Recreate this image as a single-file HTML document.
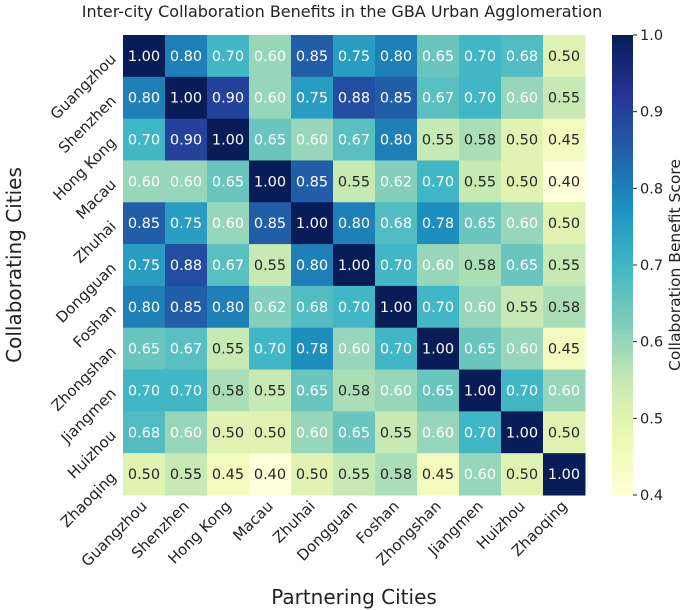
<!DOCTYPE html>
<html><head><meta charset="utf-8"><style>
body{margin:0;background:#fff;}
svg{display:block;font-family:"DejaVu Sans","Liberation Sans",sans-serif;}
</style></head><body>
<svg id="chart" width="685" height="610">
<text x="342" y="17" text-anchor="middle" font-size="16" fill="#222">Inter-city Collaboration Benefits in the GBA Urban Agglomeration</text>
<text transform="translate(21,265) rotate(-90)" text-anchor="middle" font-size="20" fill="#222">Collaborating Cities</text>
<text x="354" y="604" text-anchor="middle" font-size="20" fill="#222">Partnering Cities</text>
<text transform="translate(680,265) rotate(-90)" text-anchor="middle" font-size="15.5" fill="#222">Collaboration Benefit Score</text>
<g id="cells"></g><g id="xl"></g><g id="yl"></g><g id="cb"></g>
</svg>
<script>
const cities=["Guangzhou","Shenzhen","Hong Kong","Macau","Zhuhai","Dongguan","Foshan","Zhongshan","Jiangmen","Huizhou","Zhaoqing"];
const values=[
[1.00,0.80,0.70,0.60,0.85,0.75,0.80,0.65,0.70,0.68,0.50],
[0.80,1.00,0.90,0.60,0.75,0.88,0.85,0.67,0.70,0.60,0.55],
[0.70,0.90,1.00,0.65,0.60,0.67,0.80,0.55,0.58,0.50,0.45],
[0.60,0.60,0.65,1.00,0.85,0.55,0.62,0.70,0.55,0.50,0.40],
[0.85,0.75,0.60,0.85,1.00,0.80,0.68,0.78,0.65,0.60,0.50],
[0.75,0.88,0.67,0.55,0.80,1.00,0.70,0.60,0.58,0.65,0.55],
[0.80,0.85,0.80,0.62,0.68,0.70,1.00,0.70,0.60,0.55,0.58],
[0.65,0.67,0.55,0.70,0.78,0.60,0.70,1.00,0.65,0.60,0.45],
[0.70,0.70,0.58,0.55,0.65,0.58,0.60,0.65,1.00,0.70,0.60],
[0.68,0.60,0.50,0.50,0.60,0.65,0.55,0.60,0.70,1.00,0.50],
[0.50,0.55,0.45,0.40,0.50,0.55,0.58,0.45,0.60,0.50,1.00]];
const cbTicks=[0.4,0.5,0.6,0.7,0.8,0.9,1.0];
const vmin=0.4,vmax=1.0;
const L=123,T=35,W=462,H=460,n=cities.length,cw=W/n,ch=H/n;
const stops=["#ffffd9","#edf8b1","#c7e9b4","#7fcdbb","#41b6c4","#1d91c0","#225ea8","#253494","#081d58"].map(h=>[1,3,5].map(i=>parseInt(h.substr(i,2),16)));
function col(v){let t=Math.max(0,Math.min(1,(v-vmin)/(vmax-vmin)))*(stops.length-1);let i=Math.min(Math.floor(t),stops.length-2),f=t-i;return stops[i].map((a,k)=>Math.round(a+(stops[i+1][k]-a)*f));}
const NS="http://www.w3.org/2000/svg";
function mk(tag,attrs,parent){const e=document.createElementNS(NS,tag);for(const k in attrs)e.setAttribute(k,attrs[k]);parent.appendChild(e);return e;}
const xS=j=>L+j*cw,yS=i=>T+i*ch;
const g=document.getElementById('cells');
values.forEach((row,i)=>row.forEach((v,j)=>{
const c=col(v);
const r=mk('rect',{x:xS(j),y:yS(i),width:cw+0.5,height:ch+0.5,fill:`rgb(${c})`},g);


const t=mk('text',{x:xS(j)+cw/2,y:yS(i)+ch/2+5,'text-anchor':'middle','font-size':14.5,fill:v>=0.595?'#fff':'#262626'},g);
t.textContent=v.toFixed(2);


}));
const xl=document.getElementById('xl'),yl=document.getElementById('yl');
cities.forEach((c,j)=>{
const x=xS(j)+cw/2+4,y=T+H+12;
const t=mk('text',{transform:`translate(${x},${y}) rotate(-45)`,'text-anchor':'end','font-size':15,fill:'#222'},xl);
t.textContent=c;


const y2=yS(j)+ch/2+4;
const t2=mk('text',{transform:`translate(${L-6},${y2}) rotate(-45)`,'text-anchor':'end','font-size':15,fill:'#222'},yl);
t2.textContent=c;


});
const cb=document.getElementById('cb');
const CX=612,CW=21;
const cyS=v=>T+H-(v-vmin)/(vmax-vmin)*H;
for(let k=0;k<100;k++){const v=vmin+(vmax-vmin)*k/100;const c=col(v+0.003);
const r=mk('rect',{x:CX,y:cyS(v+(vmax-vmin)/100),width:CW,height:H/100+0.6,fill:`rgb(${c})`},cb);

}
cbTicks.forEach(v=>{
const l=mk('line',{x1:CX+CW,x2:CX+CW+4,y1:cyS(v),y2:cyS(v),stroke:'#222'},cb);


const t=mk('text',{x:CX+CW+7,y:cyS(v)+5,'font-size':14.5,fill:'#222'},cb);
t.textContent=v.toFixed(1);


});
</script>
</body></html>
